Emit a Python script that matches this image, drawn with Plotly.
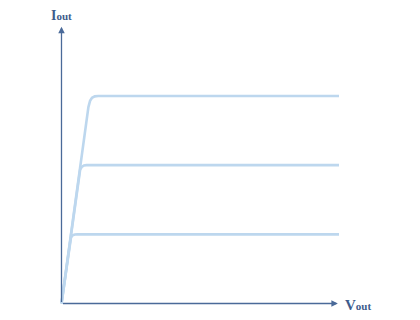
import plotly.graph_objects as go

# Output characteristic curves (Vout in arbitrary units, Iout in arbitrary units)
v_top = [0, 0.92, 0.97, 1.03, 1.10, 1.20, 1.32, 10]
i_top = [0, 2.70, 2.84, 2.93, 2.975, 2.995, 3.0, 3.0]
v_mid = [0, 0.58, 0.62, 0.67, 0.73, 0.81, 0.90, 10]
i_mid = [0, 1.72, 1.84, 1.93, 1.975, 1.995, 2.0, 2.0]
v_bot = [0, 0.26, 0.30, 0.34, 0.40, 0.48, 0.57, 10]
i_bot = [0, 0.77, 0.88, 0.95, 0.985, 0.998, 1.0, 1.0]

x_label = "V"
y_label = "I"
sub_label = "out"

curve_color = "#BDD7EE"
axis_color = "#4A6A99"
text_color = "#3E5C8C"

fig = go.Figure()
for v, i in [(v_top, i_top), (v_mid, i_mid), (v_bot, i_bot)]:
    fig.add_trace(go.Scatter(x=v, y=i, mode="lines",
                             line=dict(color=curve_color, width=2.6),
                             hoverinfo="skip", showlegend=False))

# axes arrows
fig.add_annotation(x=0, y=4.0, ax=0, ay=0, xref="x", yref="y", axref="x", ayref="y",
                   showarrow=True, arrowhead=2, arrowsize=1, arrowwidth=1.3,
                   arrowcolor=axis_color, text="")
fig.add_annotation(x=9.96, y=0, ax=0, ay=0, xref="x", yref="y", axref="x", ayref="y",
                   showarrow=True, arrowhead=2, arrowsize=1, arrowwidth=1.3,
                   arrowcolor=axis_color, text="")

serif = "Liberation Serif, Times New Roman, serif"
fig.add_annotation(x=-0.45, y=4.17, xref="x", yref="y", showarrow=False,
                   xanchor="left", yanchor="middle",
                   text=f"<b>{y_label}<span style='font-size:11px'>{sub_label}</span></b>",
                   font=dict(family=serif, size=14, color=text_color))
fig.add_annotation(x=10.16, y=-0.02, xref="x", yref="y", showarrow=False,
                   xanchor="left", yanchor="middle",
                   text=f"<b>{x_label}<span style='font-size:11px'>{sub_label}</span></b>",
                   font=dict(family=serif, size=15, color=text_color))

fig.update_layout(
    width=420, height=320,
    margin=dict(l=0, r=0, t=0, b=0),
    paper_bgcolor="white", plot_bgcolor="white",
    xaxis=dict(range=[-2.216, 12.919], visible=False, fixedrange=True),
    yaxis=dict(range=[-0.2386, 4.388], visible=False, fixedrange=True),
)
fig.write_html("out.html")
